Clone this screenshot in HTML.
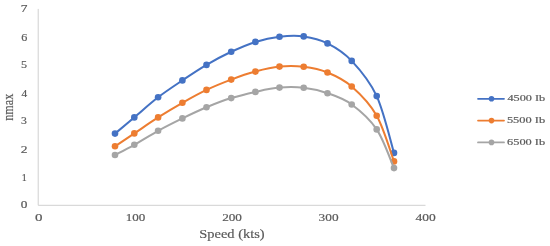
<!DOCTYPE html>
<html><head><meta charset="utf-8"><title>nmax vs Speed</title>
<style>
html,body{margin:0;padding:0;background:#fff;}
body{width:550px;height:246px;overflow:hidden;}
svg{display:block;}
text{font-family:"Liberation Serif","DejaVu Serif",serif;fill:#595959;stroke:#595959;stroke-width:0.18px;}
</style></head><body>
<svg width="550" height="246" viewBox="0 0 550 246">
<rect width="550" height="246" fill="#fff"/>
<path d="M38.2 8.9 V205.3 H425.5" fill="none" stroke="#D0D0D0" stroke-width="1"/>
<path d="M115.00 133.60 C118.22 130.90 127.12 123.45 134.30 117.40 C141.48 111.35 150.08 103.47 158.10 97.30 C166.12 91.13 174.33 85.80 182.40 80.40 C190.47 75.00 198.37 69.67 206.50 64.90 C214.63 60.13 223.05 55.63 231.20 51.80 C239.35 47.97 247.35 44.42 255.40 41.90 C263.45 39.38 271.45 37.62 279.50 36.70 C287.55 35.78 295.70 35.28 303.70 36.40 C311.70 37.52 319.50 39.32 327.50 43.40 C335.50 47.48 343.50 52.12 351.70 60.90 C359.90 69.68 369.65 80.77 376.70 96.10 C383.75 111.43 391.12 143.43 394.00 152.90" fill="none" stroke="#4472C4" stroke-width="2.05" stroke-linecap="round" stroke-linejoin="round"/>
<g fill="#4472C4"><circle cx="115.00" cy="133.60" r="3.3"/><circle cx="134.30" cy="117.40" r="3.3"/><circle cx="158.10" cy="97.30" r="3.3"/><circle cx="182.40" cy="80.40" r="3.3"/><circle cx="206.50" cy="64.90" r="3.3"/><circle cx="231.20" cy="51.80" r="3.3"/><circle cx="255.40" cy="41.90" r="3.3"/><circle cx="279.50" cy="36.70" r="3.3"/><circle cx="303.70" cy="36.40" r="3.3"/><circle cx="327.50" cy="43.40" r="3.3"/><circle cx="351.70" cy="60.90" r="3.3"/><circle cx="376.70" cy="96.10" r="3.3"/><circle cx="394.00" cy="152.90" r="3.3"/></g>
<path d="M115.00 146.30 C118.22 144.15 127.12 138.22 134.30 133.40 C141.48 128.58 150.08 122.50 158.10 117.40 C166.12 112.30 174.33 107.38 182.40 102.80 C190.47 98.22 198.37 93.77 206.50 89.90 C214.63 86.03 223.05 82.65 231.20 79.60 C239.35 76.55 247.35 73.77 255.40 71.60 C263.45 69.43 271.45 67.40 279.50 66.60 C287.55 65.80 295.70 65.82 303.70 66.80 C311.70 67.78 319.50 69.22 327.50 72.50 C335.50 75.78 343.50 79.30 351.70 86.50 C359.90 93.70 369.65 103.22 376.70 115.70 C383.75 128.18 391.12 153.78 394.00 161.40" fill="none" stroke="#ED7D31" stroke-width="2.05" stroke-linecap="round" stroke-linejoin="round"/>
<g fill="#ED7D31"><circle cx="115.00" cy="146.30" r="3.3"/><circle cx="134.30" cy="133.40" r="3.3"/><circle cx="158.10" cy="117.40" r="3.3"/><circle cx="182.40" cy="102.80" r="3.3"/><circle cx="206.50" cy="89.90" r="3.3"/><circle cx="231.20" cy="79.60" r="3.3"/><circle cx="255.40" cy="71.60" r="3.3"/><circle cx="279.50" cy="66.60" r="3.3"/><circle cx="303.70" cy="66.80" r="3.3"/><circle cx="327.50" cy="72.50" r="3.3"/><circle cx="351.70" cy="86.50" r="3.3"/><circle cx="376.70" cy="115.70" r="3.3"/><circle cx="394.00" cy="161.40" r="3.3"/></g>
<path d="M115.00 155.00 C118.22 153.30 127.12 148.83 134.30 144.80 C141.48 140.77 150.08 135.20 158.10 130.80 C166.12 126.40 174.33 122.32 182.40 118.40 C190.47 114.48 198.37 110.68 206.50 107.30 C214.63 103.92 223.05 100.67 231.20 98.10 C239.35 95.53 247.35 93.65 255.40 91.90 C263.45 90.15 271.45 88.28 279.50 87.60 C287.55 86.92 295.70 86.87 303.70 87.80 C311.70 88.73 319.50 90.42 327.50 93.20 C335.50 95.98 343.50 98.47 351.70 104.50 C359.90 110.53 369.65 118.80 376.70 129.40 C383.75 140.00 391.12 161.65 394.00 168.10" fill="none" stroke="#A5A5A5" stroke-width="2.05" stroke-linecap="round" stroke-linejoin="round"/>
<g fill="#A5A5A5"><circle cx="115.00" cy="155.00" r="3.3"/><circle cx="134.30" cy="144.80" r="3.3"/><circle cx="158.10" cy="130.80" r="3.3"/><circle cx="182.40" cy="118.40" r="3.3"/><circle cx="206.50" cy="107.30" r="3.3"/><circle cx="231.20" cy="98.10" r="3.3"/><circle cx="255.40" cy="91.90" r="3.3"/><circle cx="279.50" cy="87.60" r="3.3"/><circle cx="303.70" cy="87.80" r="3.3"/><circle cx="327.50" cy="93.20" r="3.3"/><circle cx="351.70" cy="104.50" r="3.3"/><circle cx="376.70" cy="129.40" r="3.3"/><circle cx="394.00" cy="168.10" r="3.3"/></g>
<text transform="translate(20.63 12.30) scale(1.248 1)" font-size="10.69">7</text>
<text transform="translate(21.20 40.59) scale(1.068 1)" font-size="11.34">6</text>
<text transform="translate(21.02 68.49) scale(1.120 1)" font-size="10.83">5</text>
<text transform="translate(21.47 96.50) scale(1.194 1)" font-size="9.55">4</text>
<text transform="translate(21.11 124.40) scale(1.188 1)" font-size="9.85">3</text>
<text transform="translate(20.79 152.50) scale(1.310 1)" font-size="10.30">2</text>
<text transform="translate(21.70 180.50) scale(0.971 1)" font-size="10.30">1</text>
<text transform="translate(20.87 208.41) scale(1.429 1)" font-size="9.33">0</text>
<text transform="translate(35.05 221.39) scale(1.426 1)" font-size="10.52">0</text>
<text transform="translate(125.77 221.10) scale(1.260 1)" font-size="10.37">100</text>
<text transform="translate(222.16 221.49) scale(1.174 1)" font-size="11.26">200</text>
<text transform="translate(318.58 221.39) scale(1.184 1)" font-size="11.26">300</text>
<text transform="translate(415.38 221.49) scale(1.235 1)" font-size="10.96">400</text>
<text transform="translate(199.21 238.09) scale(1.107 1)" font-size="13.08">Speed (kts)</text>
<text transform="translate(13.11 120.70) rotate(-90) scale(0.844 1)" font-size="14.38">nmax</text>
<path d="M478 98.8 H504" stroke="#4472C4" stroke-width="1.75" stroke-linecap="round"/><circle cx="491.5" cy="98.8" r="2.8" fill="#4472C4"/>
<text transform="translate(507.41 101.36) scale(1.369 1)" font-size="8.94">4500 Ib</text>
<path d="M478 120.6 H504" stroke="#ED7D31" stroke-width="1.75" stroke-linecap="round"/><circle cx="491.5" cy="120.6" r="2.8" fill="#ED7D31"/>
<text transform="translate(506.91 123.21) scale(1.387 1)" font-size="8.94">5500 Ib</text>
<path d="M478 142.4 H504" stroke="#A5A5A5" stroke-width="1.75" stroke-linecap="round"/><circle cx="491.5" cy="142.4" r="2.8" fill="#A5A5A5"/>
<text transform="translate(507.09 145.06) scale(1.380 1)" font-size="8.94">6500 Ib</text>
</svg>
</body></html>
